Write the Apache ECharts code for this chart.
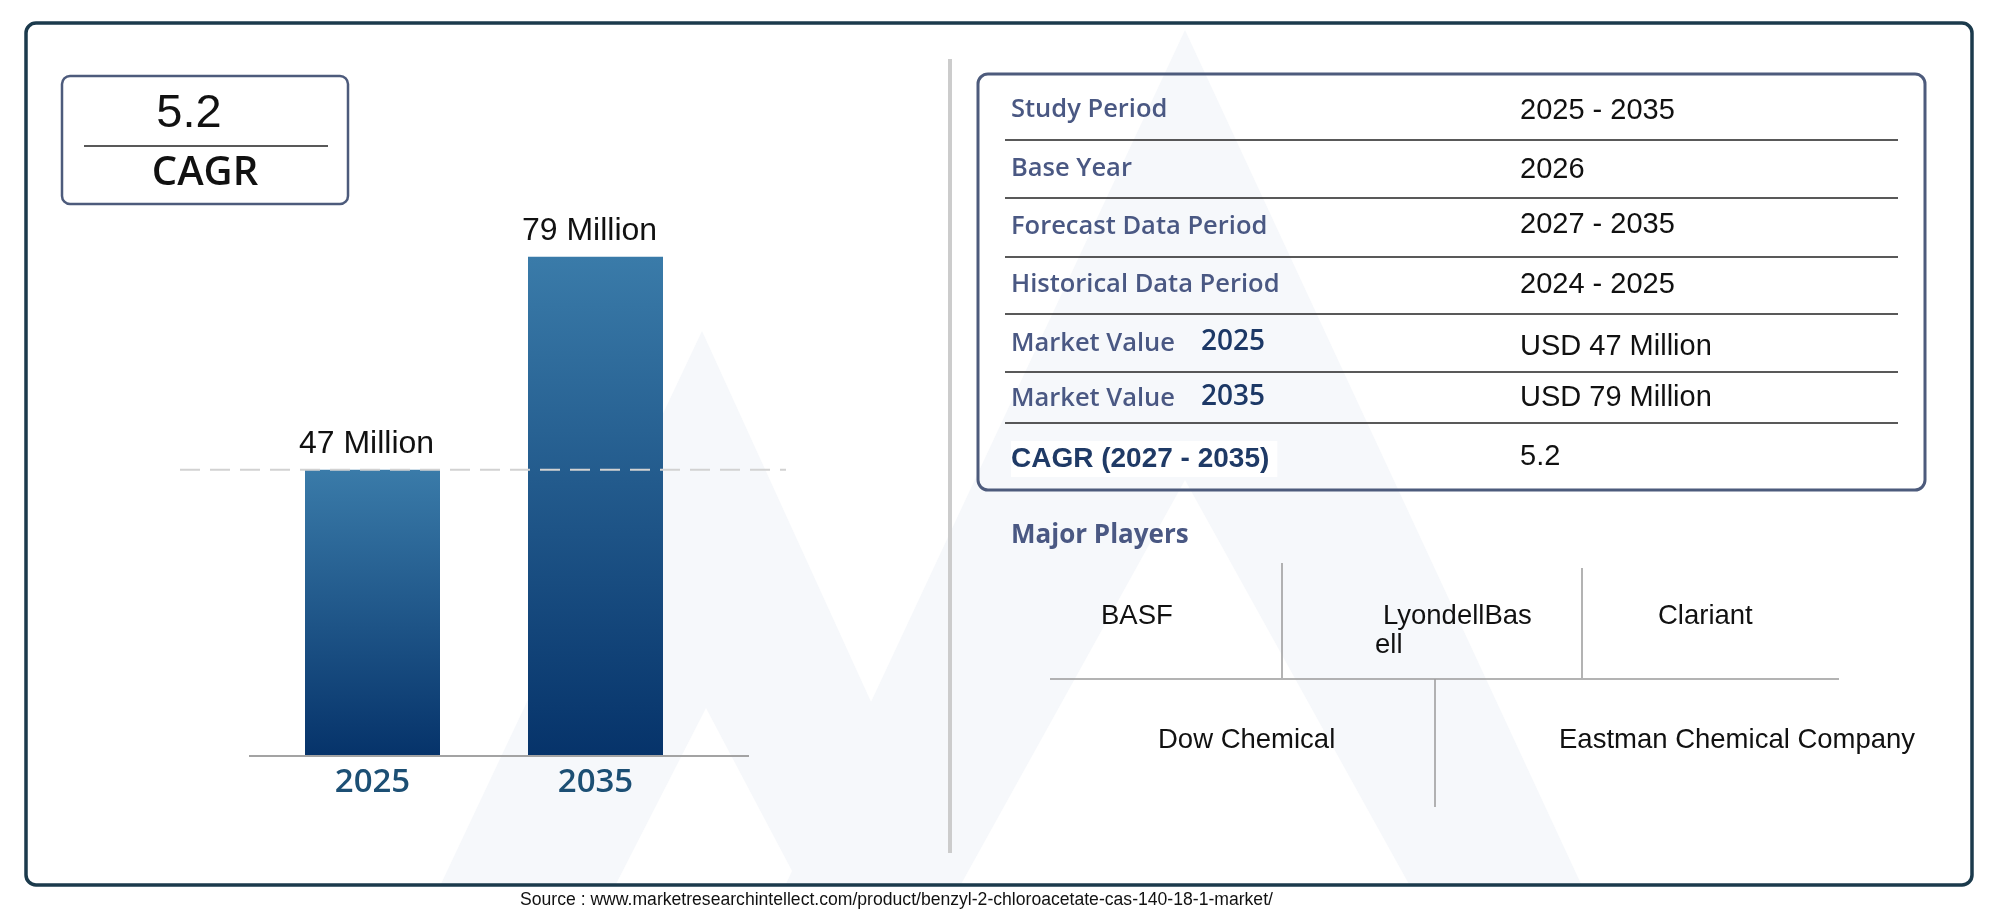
<!DOCTYPE html>
<html><head><meta charset="utf-8">
<script src="https://cdn.jsdelivr.net/npm/echarts@6/dist/echarts.min.js"></script>
<style>html,body{margin:0;padding:0;background:#fff}#c{width:2000px;height:917px}</style>
</head><body><div id="c"></div>
<script>
const categories = ['2025', '2035'];
const marketValues = [47, 79];
const valueLabels = ['47 Million', '79 Million'];
const cagrValue = '5.2';
const cagrLabel = 'CAGR';
const tableLabels = ['Study Period', 'Base Year', 'Forecast Data Period', 'Historical Data Period', 'Market Value', 'Market Value', 'CAGR (2027 - 2035)'];
const tableYears = ['', '', '', '', '2025', '2035', ''];
const tableValues = ['2025 - 2035', '2026', '2027 - 2035', '2024 - 2025', 'USD 47 Million', 'USD 79 Million', '5.2'];
const playersTitle = 'Major Players';
const players = ['BASF', 'LyondellBasell', 'Clariant', 'Dow Chemical', 'Eastman Chemical Company'];
const sourceText = 'Source : www.marketresearchintellect.com/product/benzyl-2-chloroacetate-cas-140-18-1-market/';

const JOST = '"Liberation Sans", Arial, sans-serif';
const MONT = '"Open Sans", "Noto Sans", sans-serif';

const chart = echarts.init(document.getElementById('c'), null, {renderer: 'canvas'});
chart.setOption({
  animation: false,
  backgroundColor: '#ffffff',
  grid: {left: 261, right: 1293, top: 117, bottom: 161},
  xAxis: {
    type: 'category', data: categories,
    axisLine: {show: false}, axisTick: {show: false}, splitLine: {show: false},
    axisLabel: {margin: 10, color: '#1c4f74', fontSize: 33, fontWeight: 600, fontFamily: MONT}
  },
  yAxis: {type: 'value', min: 4, max: 100, show: false, splitLine: {show: false}},
  series: [{
    type: 'bar', data: marketValues, barWidth: 135, z: 3,
    itemStyle: {
      color: new echarts.graphic.LinearGradient(0, 0, 0, 1, [
        {offset: 0, color: '#3a7ba9'}, {offset: 1, color: '#06336a'}
      ])
    },
    label: {
      show: true, position: 'top', distance: 10, offset: [-6, 0],
      formatter: p => valueLabels[p.dataIndex],
      fontSize: 32, color: '#111111', fontFamily: JOST
    }
  }]
});

const dashY = chart.convertToPixel({yAxisIndex: 0}, marketValues[0]);

function txt(text, x, y, font, fill, align, extra) {
  return {
    type: 'text', z: 20,
    style: Object.assign({text: text, x: x, y: y, font: font, fill: fill, textAlign: align || 'left', textVerticalAlign: 'middle'}, extra || {})
  };
}
function line(x1, y1, x2, y2, stroke, w, dash, z) {
  return {type: 'line', z: z || 15, shape: {x1: x1, y1: y1, x2: x2, y2: y2},
    style: {stroke: stroke, lineWidth: w, lineDash: dash || null}};
}

const g = [];
// watermark
g.push({type: 'polygon', z: -5, shape: {points: [[440, 886], [702, 331], [955, 886], [800, 886], [706, 708], [615, 886]]}, style: {fill: '#f6f8fb'}});
g.push({type: 'polygon', z: -5, shape: {points: [[785, 886], [1185, 30], [1582, 886], [1410, 886], [1185, 480], [960, 886]]}, style: {fill: '#f6f8fb'}});
// outer border
g.push({type: 'rect', z: 16, shape: {x: 26, y: 23, width: 1946, height: 862, r: 10}, style: {fill: 'none', stroke: '#1b3a4c', lineWidth: 3.5}});
// CAGR box
g.push({type: 'rect', z: 16, shape: {x: 62, y: 76, width: 286, height: 128, r: 8}, style: {fill: 'none', stroke: '#4d5b7c', lineWidth: 2.5}});
g.push(line(84, 146, 328, 146, '#222', 1.5));
g.push(txt(cagrValue, 189, 114, '47px ' + JOST, '#111', 'center'));
g.push(txt(cagrLabel, 205, 174, '600 40px ' + MONT, '#111', 'center'));
// bar baseline and dashed line
g.push(line(249, 756, 749, 756, '#a3a3a3', 2));
g.push(line(180, dashY, 786, dashY, '#d2d2d2', 2, [20, 10], 20));
// vertical divider
g.push(line(950, 59, 950, 853, '#cccccc', 4));
// table box
g.push({type: 'rect', z: 16, shape: {x: 978, y: 74, width: 947, height: 416, r: 10}, style: {fill: 'none', stroke: '#4d5b7c', lineWidth: 3}});
const rowLines = [140, 198, 257, 314, 372, 423];
rowLines.forEach(y => g.push(line(1005, y, 1898, y, '#222', 1.5)));
const labelY = [110, 169, 227, 285, 344, 399, 459];
const valueY = [111, 170, 225, 285, 347, 398, 457];
tableLabels.forEach((t, i) => {
  if (i === 6) {
    g.push(txt(t, 1011, labelY[i], 'bold 28px ' + JOST, '#1f3a66', 'left', {backgroundColor: '#ffffff', padding: [4, 8, 4, 0]}));
  } else {
    g.push(txt(t, 1011, labelY[i], '600 25.5px ' + MONT, '#4a5883'));
  }
  if (tableYears[i]) g.push(txt(tableYears[i], 1201, labelY[i] - 2, '600 28px ' + MONT, '#1c3866'));
  g.push(txt(tableValues[i], 1520, valueY[i], '29px ' + JOST, '#111'));
});
// major players
g.push(txt(playersTitle, 1011, 536, 'bold 26px ' + MONT, '#4a5883'));
g.push(line(1282, 563, 1282, 678, '#9a9a9a', 1.5));
g.push(line(1582, 568, 1582, 678, '#9a9a9a', 1.5));
g.push(line(1050, 679, 1839, 679, '#9a9a9a', 1.5));
g.push(line(1435, 679, 1435, 807, '#9a9a9a', 1.5));
const PF = '27.5px ' + JOST;
g.push(txt(players[0], 1101, 616, PF, '#111'));
g.push(txt(players[1].slice(0, 11), 1383, 616, PF, '#111'));
g.push(txt(players[1].slice(11), 1375, 645, PF, '#111'));
g.push(txt(players[2], 1658, 616, PF, '#111'));
g.push(txt(players[3], 1158, 740, PF, '#111'));
g.push(txt(players[4], 1559, 740, PF, '#111'));
// source
g.push(txt(sourceText, 520, 900, '17.6px ' + JOST, '#111'));

chart.setOption({graphic: {elements: g}});
</script>
</body></html>
